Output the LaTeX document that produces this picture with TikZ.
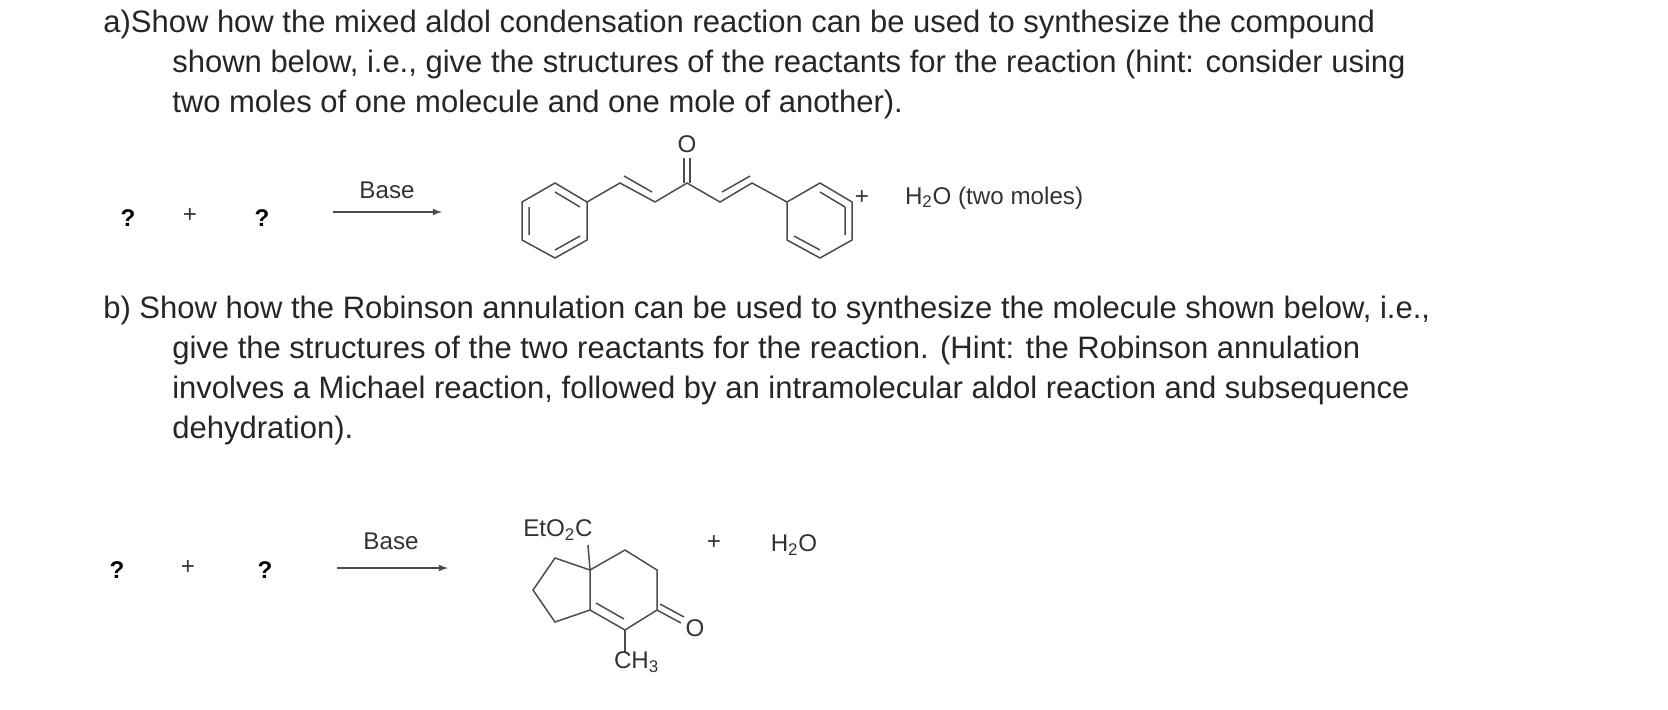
\documentclass[tikz,border=0pt]{standalone}
\usepackage{fontspec}
\setmainfont{Liberation Sans}
\begin{document}
\begin{tikzpicture}[x=0.6pt,y=-0.6pt,
  txt/.style={anchor=base west,font=\fontsize{18.6}{21}\selectfont,text=black!85,inner sep=0},
  lbl/.style={font=\fontsize{14.5}{17}\selectfont,text=black!80,inner sep=1pt},
  qm/.style={font=\bfseries\fontsize{14.5}{17}\selectfont,inner sep=1pt},
  bd/.style={draw=black!70,line width=0.9pt},
  arr/.style={draw=black!70,line width=0.9pt,-latex}]
\useasboundingbox (0,0) rectangle (1668,709);
% part a text
\node[txt] (a1) at (103,32) {a)Show how the mixed aldol condensation reaction can be used to synthesize the compound};
\node[txt] (a2) at (172,72) {shown below, i.e., give the structures of the reactants for the reaction (hint: consider using};
\node[txt] (a3) at (172,112) {two moles of one molecule and one mole of another).};
% reaction a
\node[qm] (qa1) at (128,218) {?};
\node[lbl] (pa1) at (190,216) {+};
\node[qm] (qa2) at (262,218) {?};
\coordinate (as) at (333,212); \coordinate (ae) at (442,212);
\draw[arr] (as) -- (ae);
\node[lbl] (basea) at (387,190) {Base};
\node[lbl] (pa2) at (862,198) {+};
\node[lbl,anchor=west] (wa) at (903,198) {H\textsubscript{2}O (two moles)};
% molecule a
\draw[bd] (555,183)--(587,202)--(587,240)--(555,258)--(522,240)--(522,202)--cycle;
\draw[bd] (529,207)--(529,235) (580,207)--(555,192) (580,236)--(555,250);
\draw[bd] (587,202)--(620,183)--(655,202)--(687,183)--(720,202)--(752,183)--(787,202);
\draw[bd] (624,176)--(652,192) (722,192)--(750,176);
\draw[bd] (684,183)--(684,158) (690,183)--(690,158);
\node[lbl] (oa) at (687,144) {O};
\draw[bd] (820,183)--(852,202)--(852,240)--(820,258)--(787,240)--(787,202)--cycle;
\draw[bd] (845,207)--(845,235) (820,192)--(845,207) (794,236)--(820,250);
% part b text
\node[txt] (b1) at (103,318) {b) Show how the Robinson annulation can be used to synthesize the molecule shown below, i.e.,};
\node[txt] (b2) at (172,358) {give the structures of the two reactants for the reaction. (Hint: the Robinson annulation};
\node[txt] (b3) at (172,398) {involves a Michael reaction, followed by an intramolecular aldol reaction and subsequence};
\node[txt] (b4) at (172,438) {dehydration).};
% reaction b
\node[qm] (qb1) at (117,570) {?};
\node[lbl] (pb1) at (188,568) {+};
\node[qm] (qb2) at (265,570) {?};
\coordinate (bs) at (337,568); \coordinate (be) at (448,568);
\draw[arr] (bs) -- (be);
\node[lbl] (baseb) at (391,541) {Base};
\node[lbl] (pb2) at (714,543) {+};
\node[lbl] (wb) at (794,545) {H\textsubscript{2}O};
% molecule b
\node[lbl] (est) at (558,530) {EtO\textsubscript{2}C};
\draw[bd] (588,545)--(590,570);
\draw[bd] (590,570)--(625,550)--(657,570)--(657,610)--(625,630)--(590,610)--cycle;
\draw[bd] (596,603)--(624,619);
\draw[bd] (590,570)--(555,558)--(533,590)--(555,622)--(590,610);
\draw[bd] (657,610)--(681,623) (660,604)--(684,617);
\node[lbl] (ob) at (695,628) {O};
\draw[bd] (625,630)--(625,652);
\node[lbl,anchor=north west] (me) at (612,650) {CH\textsubscript{3}};
\end{tikzpicture}
\end{document}
